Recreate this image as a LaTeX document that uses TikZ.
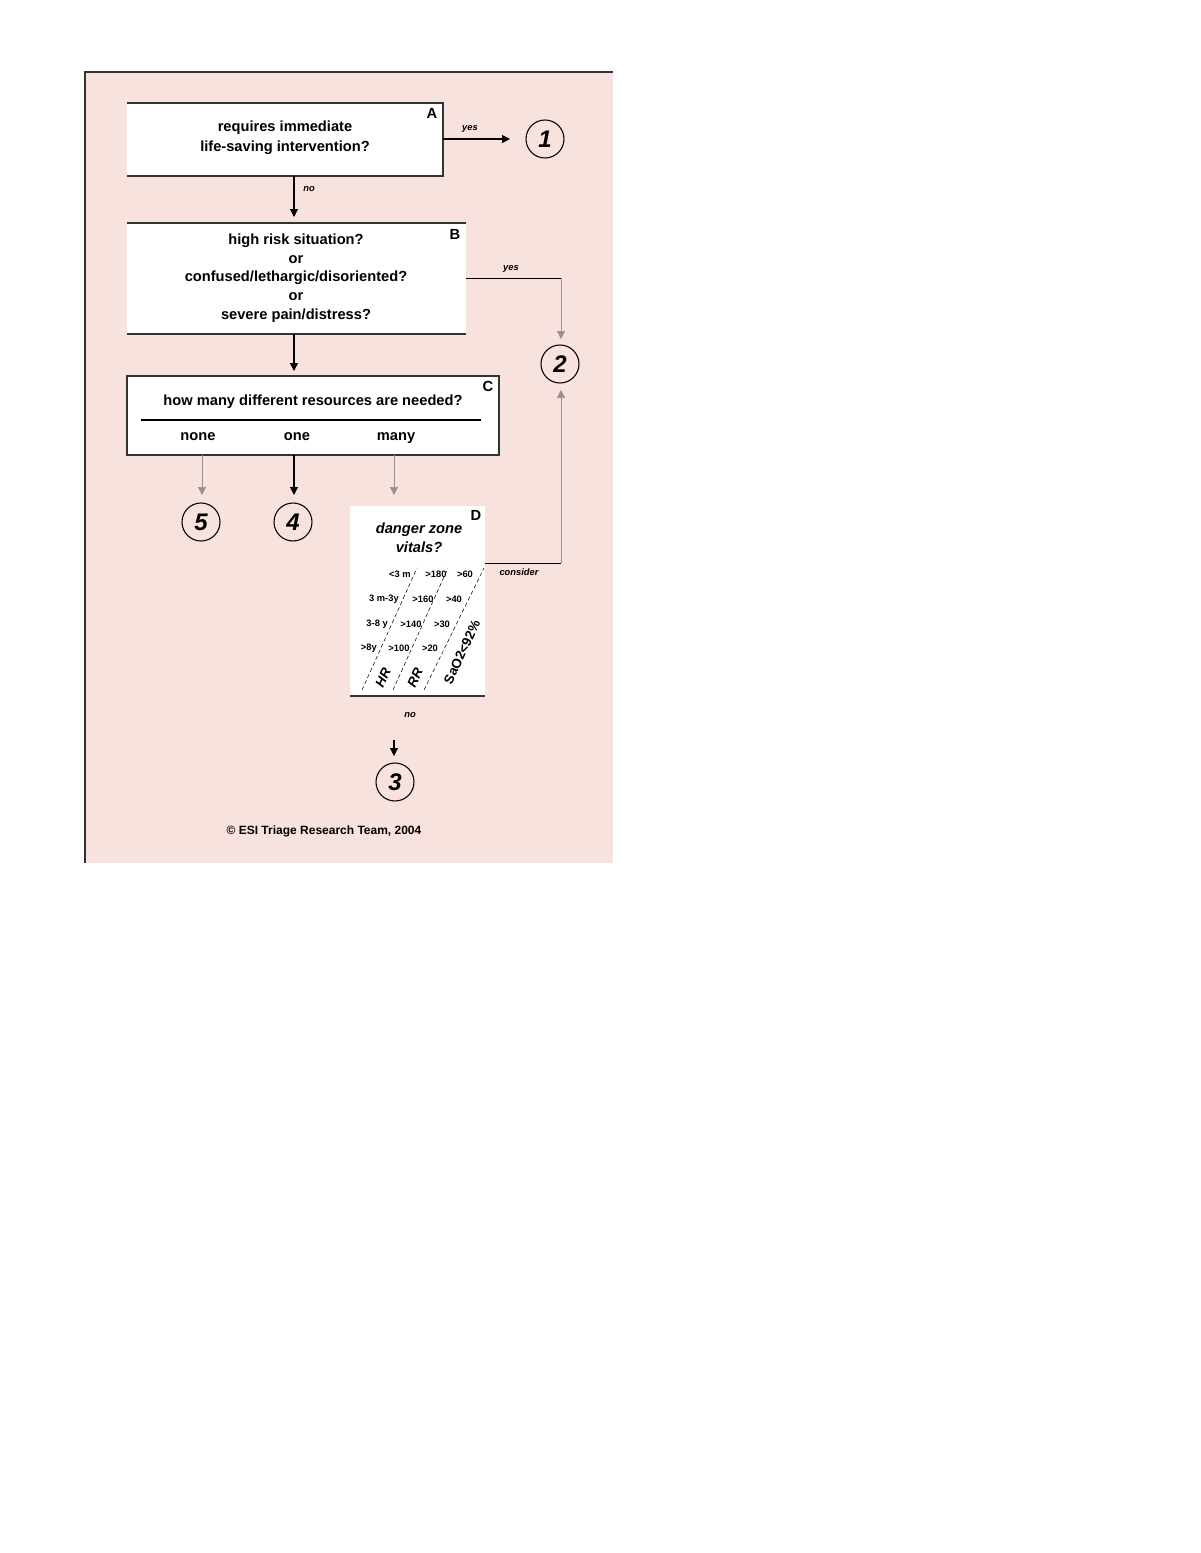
\documentclass[tikz,border=0pt]{standalone}
\usepackage{fontspec}
\setmainfont{Liberation Sans}
\usetikzlibrary{arrows.meta}
\definecolor{panel}{HTML}{F7E2DD}
\definecolor{lgray}{HTML}{9A9090}
\tikzset{
 lbl/.style={font=\fontsize{11}{15}\selectfont\bfseries},
 sm/.style={font=\fontsize{7}{8}\selectfont\bfseries\itshape},
 tiny/.style={font=\fontsize{7}{8}\selectfont\bfseries, inner sep=0pt},
 num/.style={circle,draw,thick,minimum size=28.5pt,inner sep=0pt,font=\fontsize{18}{18}\selectfont\bfseries\itshape},
 arr/.style={-{Triangle[length=6pt,width=6pt]},thick},
 garr/.style={-{Triangle[length=6pt,width=6pt]},draw=lgray,thin},
 edge/.style={thick,draw=black!80},
}
\begin{document}
\begin{tikzpicture}[x=0.75pt,y=-0.75pt]
\useasboundingbox (0,0) rectangle (1200,1553);
\fill[white] (0,0) rectangle (1200,1553);
\fill[panel] (85,72) rectangle (613,863);
\draw[edge] (85,863) -- (85,72) -- (613,72);
% A
\fill[white] (127,103) rectangle (443,176);
\draw[edge] (127,103) -- (443,103) -- (443,176) -- (127,176);
\node[lbl] (la) at (432,113) {A};
\node[lbl,align=center] (a) at (285,138) {requires immediate\\life-saving intervention?};
\node[num] (n1) at (545,139) {1};
\coordinate (aR) at (443,139);
\draw[arr] (aR) -- (510,139);
\node[sm] (yes1) at (470,129) {yes};
\coordinate (aB) at (294,176);
\coordinate (bT) at (294,217);
\draw[arr] (aB) -- (bT);
\node[sm] (no1) at (309,189) {no};
% B
\fill[white] (127,223) rectangle (466,334);
\draw[edge] (127,223) -- (466,223);
\draw[edge] (127,334) -- (466,334);
\node[lbl] (lb) at (455,234) {B};
\node[lbl,font=\fontsize{11}{14}\selectfont\bfseries,align=center] (b) at (296,278) {high risk situation?\\or\\confused/lethargic/disoriented?\\or\\severe pain/distress?};
\node[num] (n2) at (560,364) {2};
\coordinate (bR) at (466,278);
\coordinate (bR2) at (561,278);
\draw[thin] (bR) -- (bR2);
\draw[garr] (bR2) -- (561,339);
\node[sm] (yes2) at (511,269) {yes};
\draw[arr] (294,334) -- (294,371);
% C
\fill[white] (127,376) rectangle (499,455);
\draw[edge] (127,376) rectangle (499,455);
\node[lbl] (lc) at (488,386) {C};
\node[lbl] (c) at (313,402) {how many different resources are needed?};
\draw[thick] (141,420) -- (481,420);
\node[lbl,anchor=base] (none) at (198,440) {none};
\node[lbl,anchor=base] (one) at (297,440) {one};
\node[lbl,anchor=base] (many) at (396,440) {many};
\draw[garr] (202,455) -- (202,495);
\draw[arr] (294,455) -- (294,495);
\draw[garr] (394,455) -- (394,495);
\node[num] (n5) at (201,522) {5};
\node[num] (n4) at (293,522) {4};
% D
\fill[white] (350,506) rectangle (485,696);
\draw[edge] (350,696) -- (485,696);
\node[lbl] (ld) at (476,515) {D};
\node[lbl,font=\fontsize{11}{14}\selectfont\bfseries\itshape,align=center] (d) at (419,538) {danger zone\\vitals?};
\coordinate (dR) at (485,563);
\coordinate (dR2) at (561,563);
\draw[thin] (dR) -- (dR2);
\draw[garr] (dR2) -- (561,390);
\node[sm] (cons) at (519,572) {consider};
\foreach \xa/\xb in {362/417, 393/448, 424/484}
  \draw[densely dashed,thin] (\xa,690) -- (\xb,568);
\node[tiny,anchor=east] at (411,574) {<3 m};
\node[tiny,anchor=east] at (399,599) {3 m-3y};
\node[tiny,anchor=east] at (388,624) {3-8 y};
\node[tiny,anchor=east] at (377,648) {>8y};
\node[tiny] at (436,574) {>180};
\node[tiny] at (423,599) {>160};
\node[tiny] at (411,624) {>140};
\node[tiny] at (399,648) {>100};
\node[tiny] at (465,574) {>60};
\node[tiny] at (454,599) {>40};
\node[tiny] at (442,624) {>30};
\node[tiny] at (430,648) {>20};
\node[font=\fontsize{10}{12}\selectfont\bfseries\itshape,rotate=65,inner sep=0pt] at (383,678) {HR};
\node[font=\fontsize{10}{12}\selectfont\bfseries\itshape,rotate=65,inner sep=0pt] at (415,678) {RR};
\node[font=\fontsize{10}{12}\selectfont\bfseries,rotate=65,inner sep=0pt] at (462,652) {SaO2<92\%};
\node[sm] (no2) at (410,715) {no};
\draw[arr] (394,740) -- (394,756);
\node[num] (n3) at (395,782) {3};
\node[font=\fontsize{9}{10}\selectfont\bfseries] (copy) at (324,831) {© ESI Triage Research Team, 2004};
\end{tikzpicture}
\end{document}
